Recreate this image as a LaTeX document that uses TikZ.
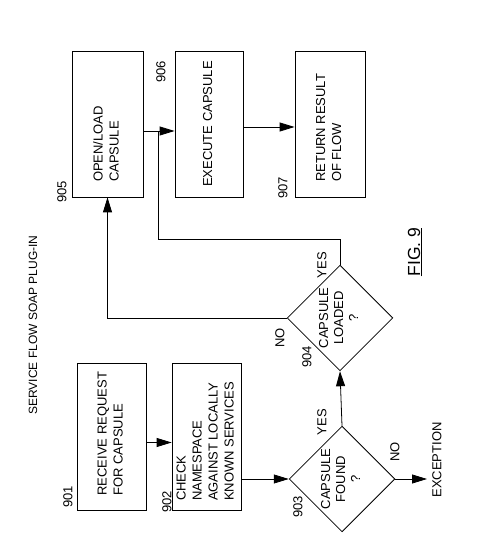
\documentclass[tikz,border=0pt]{standalone}
\usepackage{fontspec}
\setmainfont{Liberation Sans}
\usepackage{graphicx}
\usetikzlibrary{shapes, arrows.meta, positioning, calc}

\newcommand{\sidetext}[2]{\rotatebox{90}{\makebox[#1][l]{\begin{tabular}{@{}l@{}}#2\end{tabular}}}}
\newcommand{\sidemid}[1]{\rotatebox{90}{\begin{tabular}{@{}c@{}}#1\end{tabular}}}

\begin{document}
\begin{tikzpicture}[x=1pt, y=1pt, line width=0.8pt,
    box/.style={draw, rectangle, inner sep=0pt, font=\fontsize{13}{16}\selectfont},
    decision/.style={draw, diamond, aspect=1, inner sep=0pt, minimum size=102pt, font=\fontsize{13}{15}\selectfont},
    tag/.style={rotate=90, inner sep=0pt, font=\fontsize{13}{16}\selectfont},
    flow/.style={-{Triangle[length=15pt, width=9pt]}}]
  \useasboundingbox (0,0) rectangle (500,543);

  \node[tag, font=\fontsize{12}{14}\selectfont] (title) at (33,218) {SERVICE FLOW SOAP PLUG-IN};

  \node[box, minimum width=69pt, minimum height=147pt] (n901) at (111.5,106.5) {\sidetext{118pt}{RECEIVE REQUEST\\FOR CAPSULE}};
  \node[box, minimum width=69pt, minimum height=147pt] (n902) at (206.5,106.5) {\sidetext{129pt}{CHECK\\NAMESPACE\\AGAINST LOCALLY\\KNOWN SERVICES}};
  \node[decision] (n903) at (342,64) {\sidemid{CAPSULE\\FOUND\\?}};
  \node[decision] (n904) at (340,225) {\sidemid{CAPSULE\\LOADED\\?}};
  \node[box, minimum width=71pt, minimum height=146pt] (n905) at (107.5,419) {\sidetext{116pt}{OPEN/LOAD\\CAPSULE}};
  \node[box, minimum width=68pt, minimum height=146pt] (n906) at (209,419) {\sidetext{126pt}{EXECUTE CAPSULE}};
  \node[box, minimum width=70pt, minimum height=146pt] (n907) at (330,419) {\sidetext{116pt}{RETURN RESULT\\OF FLOW}};
  \node[tag] (exc) at (437,83) {EXCEPTION};
  \coordinate (excend) at (427,64);
  \coordinate (back) at (158,304);
  \coordinate (join) at (158,412);

  % reference numbers
  \node[tag] (l901) at (68,46) {901};
  \node[tag] (l902) at (167,41) {902};
  \node[tag] (l903) at (298,36) {903};
  \node[tag] (l904) at (307,186) {904};
  \node[tag] (l905) at (62,351) {905};
  \node[tag] (l906) at (161,471) {906};
  \node[tag] (l907) at (283,355) {907};

  % branch labels
  \node[tag] (yes903) at (322,121) {YES};
  \node[tag] (no903) at (395,91) {NO};
  \node[tag] (yes904) at (322,278) {YES};
  \node[tag] (no904) at (280,205) {NO};

  \draw[flow] ([yshift=-6pt]n901.east) -- ([yshift=-6pt]n902.west);
  \draw[flow] (n902.east |- n903.west) -- (n903.west);
  \draw[flow] (n903.north) -- (n904.south);
  \draw[flow] (n903.east) -- (excend);
  \draw[flow] (n904.west) -| (n905.south);
  \draw[flow] ([yshift=-7pt]n905.east) -- ([yshift=-7pt]n906.west);
  \draw (n904.north) |- (back) -- (join);
  \draw[flow] ([yshift=-3pt]n906.east) -- ([yshift=-3pt]n907.west);

  \node[tag, font=\fontsize{17.5}{20}\selectfont] (fig) at (415,291) {\underline{FIG. 9}};
\end{tikzpicture}
\end{document}
